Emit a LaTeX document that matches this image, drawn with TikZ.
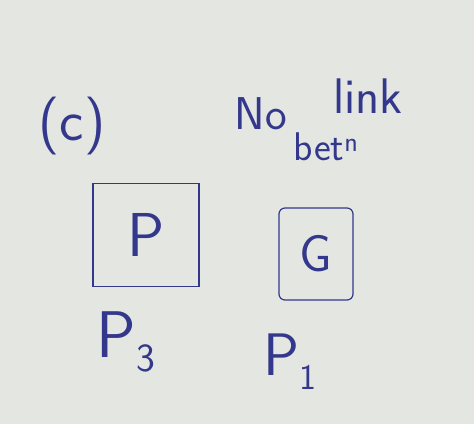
\documentclass[tikz,border=0pt]{standalone}
\usepackage{xcolor}
\usepackage{tikz}

\definecolor{ink}{RGB}{52,56,140}
\definecolor{paper}{RGB}{228,230,226}

\tikzset{
  hand/.style={color=ink, inner sep=0.75pt, font=\sffamily},
  pbox/.style={hand, draw=ink, line width=1.2pt},
}

\begin{document}
\begin{tikzpicture}[x=1pt,y=1pt,yscale=-1,xscale=1]
        % paper
        \fill [paper] (0,0) rectangle (474,424) ;
        \useasboundingbox (0,0) rectangle (474,424) ;
        % Text Node
        \draw (72,126) node [hand] (lbl) {\fontsize{58}{58}\selectfont (c)};
        % Text Node
        \draw (261,114) node [hand] (no) {\fontsize{46}{46}\selectfont No};
        % Text Node
        \draw (368,96) node [hand] (link) {\fontsize{50}{50}\selectfont link};
        % Text Node
        \draw (326,147) node [hand] (betn) {\fontsize{40}{40}\selectfont bet\textsuperscript{n}};
        % Shape: Box P
        \draw (146,235) node [pbox, minimum width=106, minimum height=103] (boxP) {\fontsize{62}{62}\selectfont P};
        % Shape: Box G
        \draw (316,254) node [pbox, rounded corners=6pt, minimum width=74, minimum height=92] (boxG) {\fontsize{52}{52}\selectfont G};
        % Text Node
        \draw (126,342) node [hand] (p3) {\fontsize{66}{66}\selectfont P\raisebox{-14pt}{\fontsize{40}{40}\selectfont 3}};
        % Text Node
        \draw (290,362) node [hand] (p1) {\fontsize{60}{60}\selectfont P\raisebox{-14pt}{\fontsize{36}{36}\selectfont 1}};
\end{tikzpicture}
\end{document}
